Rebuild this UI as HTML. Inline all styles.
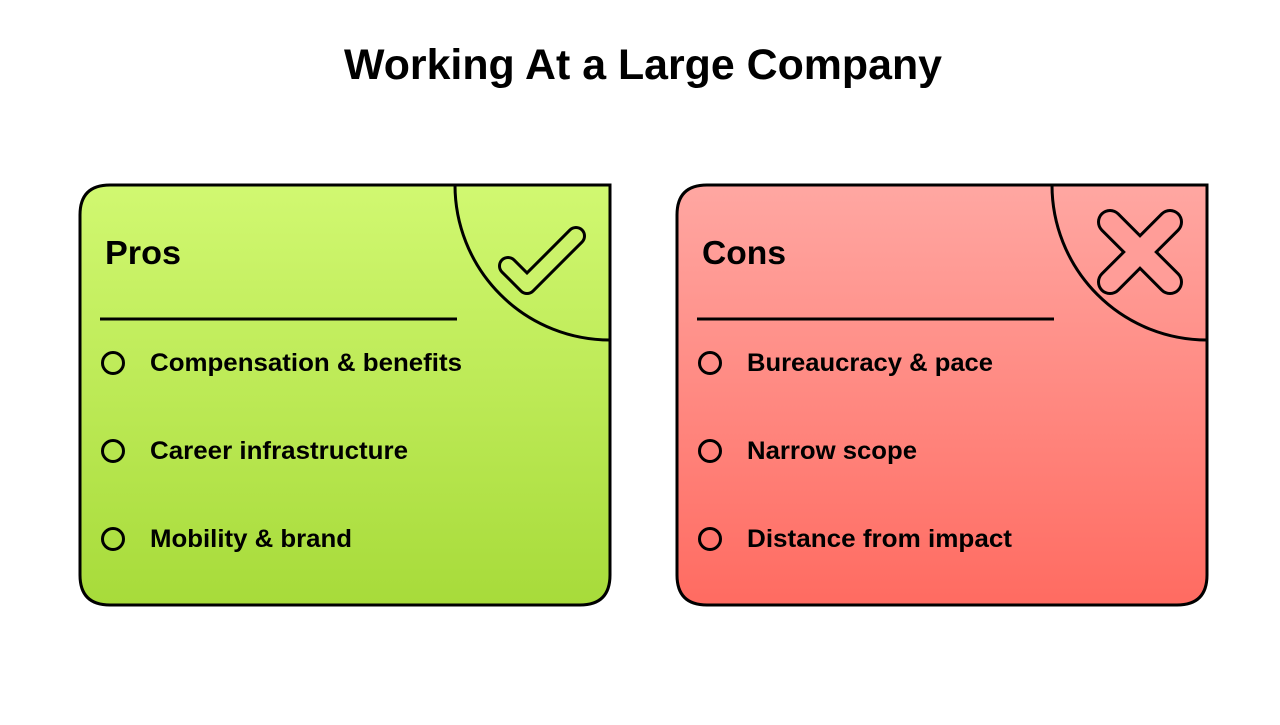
<!DOCTYPE html>
<html><head><style>
body{margin:0;width:1280px;height:720px;background:#fff;font-family:"Liberation Sans",sans-serif;overflow:hidden}
</style></head><body>
<svg width="1280" height="720" xmlns="http://www.w3.org/2000/svg">
<defs>
<linearGradient id="g" x1="0" y1="0" x2="0" y2="1"><stop offset="0" stop-color="#d1f871"/><stop offset="1" stop-color="#a7db3a"/></linearGradient>
<linearGradient id="r" x1="0" y1="0" x2="0" y2="1"><stop offset="0" stop-color="#ffa7a2"/><stop offset="1" stop-color="#ff6b61"/></linearGradient>
</defs>
<text x="344" y="79" font-size="43" font-weight="bold" textLength="598" lengthAdjust="spacingAndGlyphs">Working At a Large Company</text>
<g stroke="#000" stroke-width="3" fill="url(#g)">
<path d="M110 185 H610 V575 Q610 605 580 605 H110 Q80 605 80 575 V215 Q80 185 110 185 Z"/>
<path d="M455 185 A155 155 0 0 0 610 340" fill="none"/>
<line x1="100" y1="319" x2="457" y2="319"/>
<circle cx="113" cy="363" r="10.5" fill="none"/>
<circle cx="113" cy="451" r="10.5" fill="none"/>
<circle cx="113" cy="539" r="10.5" fill="none"/>
</g>
<path d="M508 266 L527 285 L576 236" fill="none" stroke="#000" stroke-width="20" stroke-linecap="round" stroke-linejoin="round"/>
<path d="M508 266 L527 285 L576 236" fill="none" stroke="#cbf26a" stroke-width="14" stroke-linecap="round" stroke-linejoin="round"/>
<g stroke="#000" stroke-width="3" fill="url(#r)">
<path d="M707 185 H1207 V575 Q1207 605 1177 605 H707 Q677 605 677 575 V215 Q677 185 707 185 Z"/>
<path d="M1052 185 A155 155 0 0 0 1207 340" fill="none"/>
<line x1="697" y1="319" x2="1054" y2="319"/>
<circle cx="710" cy="363" r="10.5" fill="none"/>
<circle cx="710" cy="451" r="10.5" fill="none"/>
<circle cx="710" cy="539" r="10.5" fill="none"/>
</g>
<path d="M1110 222 L1170 282 M1170 222 L1110 282" fill="none" stroke="#000" stroke-width="26" stroke-linecap="round"/>
<path d="M1110 222 L1170 282 M1170 222 L1110 282" fill="none" stroke="#ff9d98" stroke-width="20" stroke-linecap="round"/>
<g font-weight="bold" fill="#000">
<text x="105" y="264" font-size="33" textLength="76" lengthAdjust="spacingAndGlyphs">Pros</text>
<text x="702" y="264" font-size="33" textLength="84" lengthAdjust="spacingAndGlyphs">Cons</text>
<g font-size="25">
<text x="150" y="371" textLength="312" lengthAdjust="spacingAndGlyphs">Compensation &amp; benefits</text>
<text x="150" y="459" textLength="258" lengthAdjust="spacingAndGlyphs">Career infrastructure</text>
<text x="150" y="547" textLength="202" lengthAdjust="spacingAndGlyphs">Mobility &amp; brand</text>
<text x="747" y="371" textLength="246" lengthAdjust="spacingAndGlyphs">Bureaucracy &amp; pace</text>
<text x="747" y="459" textLength="170" lengthAdjust="spacingAndGlyphs">Narrow scope</text>
<text x="747" y="547" textLength="265" lengthAdjust="spacingAndGlyphs">Distance from impact</text>
</g></g>
</svg>
</body></html>
